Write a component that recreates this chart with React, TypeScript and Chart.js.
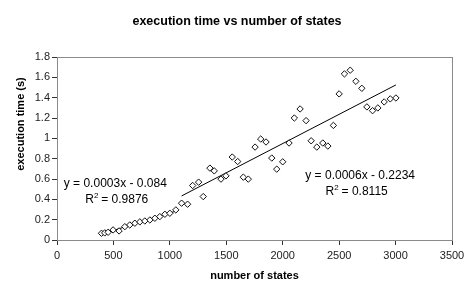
import React, { useEffect, useRef } from "react";
import { Chart, registerables } from "chart.js";

Chart.register(...registerables);

const TITLE = "execution time vs number of states";
const X_TITLE = "number of states";
const Y_TITLE = "execution time (s)";

// Series 1: small number of states
const statesLow = [394, 423, 453, 497, 550, 601, 645, 690, 734, 778, 823, 867, 911, 956, 1000, 1053];
const timeLow = [0.066, 0.07, 0.076, 0.099, 0.089, 0.131, 0.148, 0.165, 0.178, 0.187, 0.197, 0.214, 0.23, 0.253, 0.263, 0.296];

// Series 2: large number of states
const statesHigh = [1104, 1157, 1202, 1255, 1296, 1355, 1393, 1453, 1497, 1553, 1601, 1651, 1695, 1755, 1805, 1852, 1903, 1947, 2000, 2056, 2103, 2154, 2207, 2252, 2302, 2355, 2400, 2449, 2500, 2547, 2598, 2648, 2701, 2746, 2796, 2843, 2899, 2953, 3003];
const timeHigh = [0.362, 0.352, 0.536, 0.569, 0.427, 0.707, 0.68, 0.599, 0.631, 0.816, 0.772, 0.618, 0.599, 0.914, 0.993, 0.964, 0.806, 0.697, 0.769, 0.954, 1.2, 1.289, 1.174, 0.976, 0.914, 0.954, 0.924, 1.127, 1.437, 1.634, 1.67, 1.561, 1.492, 1.309, 1.272, 1.299, 1.358, 1.388, 1.397];

const eqLow = ["y = 0.0003x - 0.084", "0.9876"];
const eqHigh = ["y = 0.0006x - 0.2234", "0.8115"];

const X_MAX = 3500;
const Y_MAX = 1.8;

function fit(xs: number[], ys: number[]) {
  const n = xs.length;
  let sx = 0, sy = 0, sxx = 0, sxy = 0;
  for (let i = 0; i < n; i++) {
    sx += xs[i]; sy += ys[i]; sxx += xs[i] * xs[i]; sxy += xs[i] * ys[i];
  }
  const m = (n * sxy - sx * sy) / (n * sxx - sx * sx);
  const b = (sy - m * sx) / n;
  const x0 = Math.min(...xs), x1 = Math.max(...xs);
  return [{ x: x0, y: m * x0 + b }, { x: x1, y: m * x1 + b }];
}

const FONT = "Arial, 'Liberation Sans', sans-serif";

const overlay = {
  id: "overlay",
  afterDraw(chart: any) {
    const { ctx, chartArea: a } = chart;
    ctx.save();
    // plot border
    ctx.strokeStyle = "#8a8a8a";
    ctx.lineWidth = 1;
    ctx.strokeRect(Math.round(a.left) + 0.5, Math.round(a.top) + 0.5, Math.round(a.right - a.left), Math.round(a.bottom - a.top));
    // title
    ctx.fillStyle = "#000";
    ctx.textAlign = "center";
    ctx.textBaseline = "middle";
    ctx.font = `bold 12.5px ${FONT}`;
    ctx.fillText(TITLE, 237, 22);
    ctx.font = `bold 11px ${FONT}`;
    ctx.fillText(X_TITLE, (a.left + a.right) / 2, 276);
    ctx.save();
    ctx.translate(21, 124);
    ctx.rotate(-Math.PI / 2);
    ctx.fillText(Y_TITLE, 0, 0);
    ctx.restore();
    // equations
    ctx.font = `12px ${FONT}`;
    ctx.textAlign = "left";
    const xs = chart.scales.x, ys = chart.scales.y;
    const drawEq = (eq: string[], px: number, py: number, rx: number) => {
      ctx.fillText(eq[0], px, py);
      ctx.fillText("R", rx, py + 16);
      const rw = ctx.measureText("R").width;
      ctx.font = `8px ${FONT}`;
      ctx.fillText("2", rx + rw, py + 12);
      ctx.font = `12px ${FONT}`;
      ctx.fillText(" = " + eq[1], rx + rw + 4, py + 16);
    };
    drawEq(eqLow, xs.getPixelForValue(60), ys.getPixelForValue(0.55), xs.getPixelForValue(250));
    drawEq(eqHigh, xs.getPixelForValue(2200), ys.getPixelForValue(0.63), xs.getPixelForValue(2380));
    ctx.restore();
  },
};

export default function App() {
  const ref = useRef<HTMLCanvasElement>(null);
  useEffect(() => {
    document.body.style.margin = "0";
    const pts = (xs: number[], ys: number[]) => xs.map((x, i) => ({ x, y: ys[i] }));
    const chart = new Chart(ref.current!, {
      type: "scatter",
      data: {
        datasets: [
          {
            data: pts(statesLow, timeLow),
            pointStyle: "rectRot",
            radius: 3.2,
            borderColor: "#111",
            backgroundColor: "#fff",
            borderWidth: 1,
          },
          {
            data: pts(statesHigh, timeHigh),
            pointStyle: "rectRot",
            radius: 3.2,
            borderColor: "#111",
            backgroundColor: "#fff",
            borderWidth: 1,
          },
          {
            type: "line",
            data: fit(statesLow, timeLow),
            borderColor: "#000",
            borderWidth: 1,
            pointRadius: 0,
            showLine: true,
          },
          {
            type: "line",
            data: fit(statesHigh, timeHigh),
            borderColor: "#000",
            borderWidth: 1,
            pointRadius: 0,
            showLine: true,
          },
        ] as any,
      },
      options: {
        responsive: false,
        animation: false,
        layout: { padding: { left: 0, top: 57, right: 22, bottom: 0 } },
        plugins: { legend: { display: false }, tooltip: { enabled: false }, title: { display: false } },
        scales: {
          x: {
            type: "linear",
            min: 0,
            max: X_MAX,
            afterFit: (s: any) => { s.height = 55; },
            ticks: {
              stepSize: 500,
              color: "#222",
              padding: 4,
              font: { family: FONT, size: 11 },
              callback: (v: any) => String(Math.round(Number(v))),
            },
            grid: { drawOnChartArea: false, drawTicks: true, tickLength: 5, color: "#333" },
            border: { display: true, color: "#333" },
          },
          y: {
            type: "linear",
            min: 0,
            max: Y_MAX,
            afterFit: (s: any) => { s.width = 57; },
            ticks: {
              stepSize: 0.2,
              color: "#222",
              padding: 2,
              font: { family: FONT, size: 11 },
              callback: (v: any) => String(Math.round(Number(v) * 10) / 10),
            },
            grid: { drawOnChartArea: false, drawTicks: true, tickLength: 5, color: "#333" },
            border: { display: true, color: "#333" },
          },
        },
      },
      plugins: [overlay],
    });
    return () => chart.destroy();
  }, []);
  return (
    <div style={{ position: "absolute", left: 0, top: 0, width: 474, height: 295, background: "#fff" }}>
      <canvas ref={ref} width={474} height={295} />
    </div>
  );
}
